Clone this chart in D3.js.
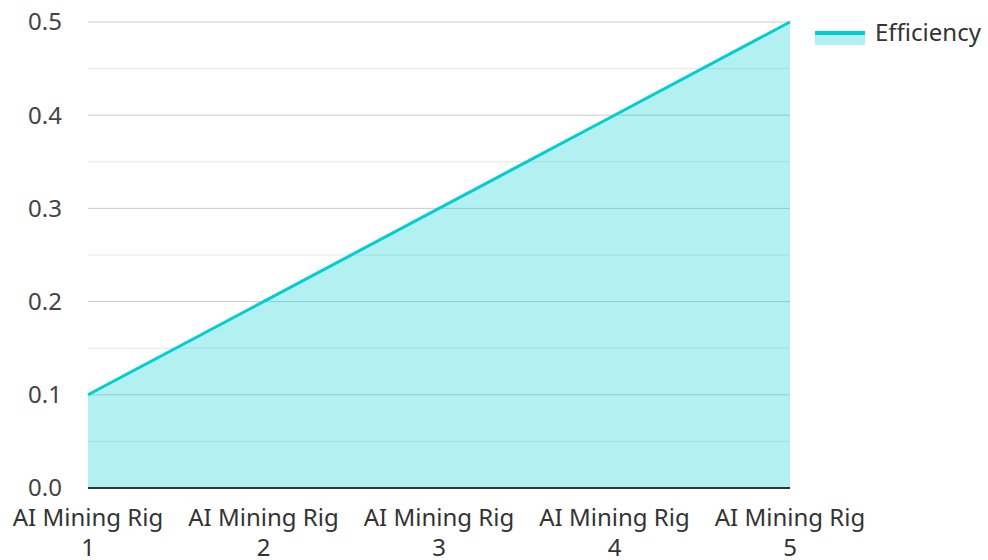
<!DOCTYPE html>
<html><head><meta charset="utf-8">
<script src="https://cdn.jsdelivr.net/npm/d3@7"></script>
<style>
body{margin:0;background:#fff;}
text{font-family:"Noto Sans","Open Sans",sans-serif;}
</style></head>
<body><svg id="c" width="988" height="560"></svg>
<script>
const categories = ["AI Mining Rig 1","AI Mining Rig 2","AI Mining Rig 3","AI Mining Rig 4","AI Mining Rig 5"];
const efficiency = [0.1, 0.2, 0.3, 0.4, 0.5];
const yTicks = [0.0, 0.1, 0.2, 0.3, 0.4, 0.5];
const yMinor = [0.05, 0.15, 0.25, 0.35, 0.45];
const seriesName = "Efficiency";

(function(){
const svg = d3.select("#c");
const pLeft = 88, pRight = 790, pTop = 22, pBottom = 488;
const color = "#00CED1";
const fs = 24;
const x = d3.scalePoint().domain(categories).range([pLeft, pRight]);
const y = d3.scaleLinear().domain([0, 0.5]).range([pBottom, pTop]);

// minor gridlines
svg.append("g").selectAll("line").data(yMinor).join("line")
  .attr("x1", pLeft).attr("x2", pRight)
  .attr("y1", d => y(d)).attr("y2", d => y(d))
  .attr("stroke", "#e6e6e6").attr("stroke-width", 1);
// major gridlines
svg.append("g").selectAll("line").data(yTicks.filter(d => d > 0)).join("line")
  .attr("x1", pLeft).attr("x2", pRight)
  .attr("y1", d => y(d)).attr("y2", d => y(d))
  .attr("stroke", "#cccccc").attr("stroke-width", 1);

const data = categories.map((c, i) => ({c, v: efficiency[i]}));
svg.append("path").datum(data)
  .attr("d", d3.area().x(d => x(d.c)).y0(y(0)).y1(d => y(d.v)))
  .attr("fill", color).attr("fill-opacity", 0.3);
svg.append("path").datum(data)
  .attr("d", d3.line().x(d => x(d.c)).y(d => y(d.v)))
  .attr("fill", "none").attr("stroke", color).attr("stroke-width", 3);

// x axis line
svg.append("line").attr("x1", pLeft).attr("x2", pRight)
  .attr("y1", y(0)).attr("y2", y(0)).attr("stroke", "#333").attr("stroke-width", 2);

// y labels
svg.append("g").selectAll("text").data(yTicks).join("text")
  .attr("x", 62).attr("y", d => y(d)).attr("dy", "0.35em")
  .attr("text-anchor", "end").attr("font-size", fs).attr("fill", "#444")
  .text(d => d.toFixed(1));

// x labels (wrapped)
const xl = svg.append("g").selectAll("text").data(categories).join("text")
  .attr("text-anchor", "middle").attr("font-size", fs).attr("fill", "#333");
xl.each(function(d){
  const parts = d.split(" ");
  const last = parts.pop();
  const t = d3.select(this);
  t.append("tspan").attr("x", x(d)).attr("y", 526).text(parts.join(" "));
  t.append("tspan").attr("x", x(d)).attr("y", 556).text(last);
});

// legend
const lg = svg.append("g");
lg.append("rect").attr("x", 815).attr("y", 34).attr("width", 50).attr("height", 11)
  .attr("fill", color).attr("fill-opacity", 0.3);
lg.append("line").attr("x1", 815).attr("x2", 865).attr("y1", 33).attr("y2", 33)
  .attr("stroke", color).attr("stroke-width", 4);
lg.append("text").attr("x", 875).attr("y", 33).attr("dy", "0.35em")
  .attr("font-size", fs).attr("fill", "#333").text(seriesName);
})();
</script></body></html>
